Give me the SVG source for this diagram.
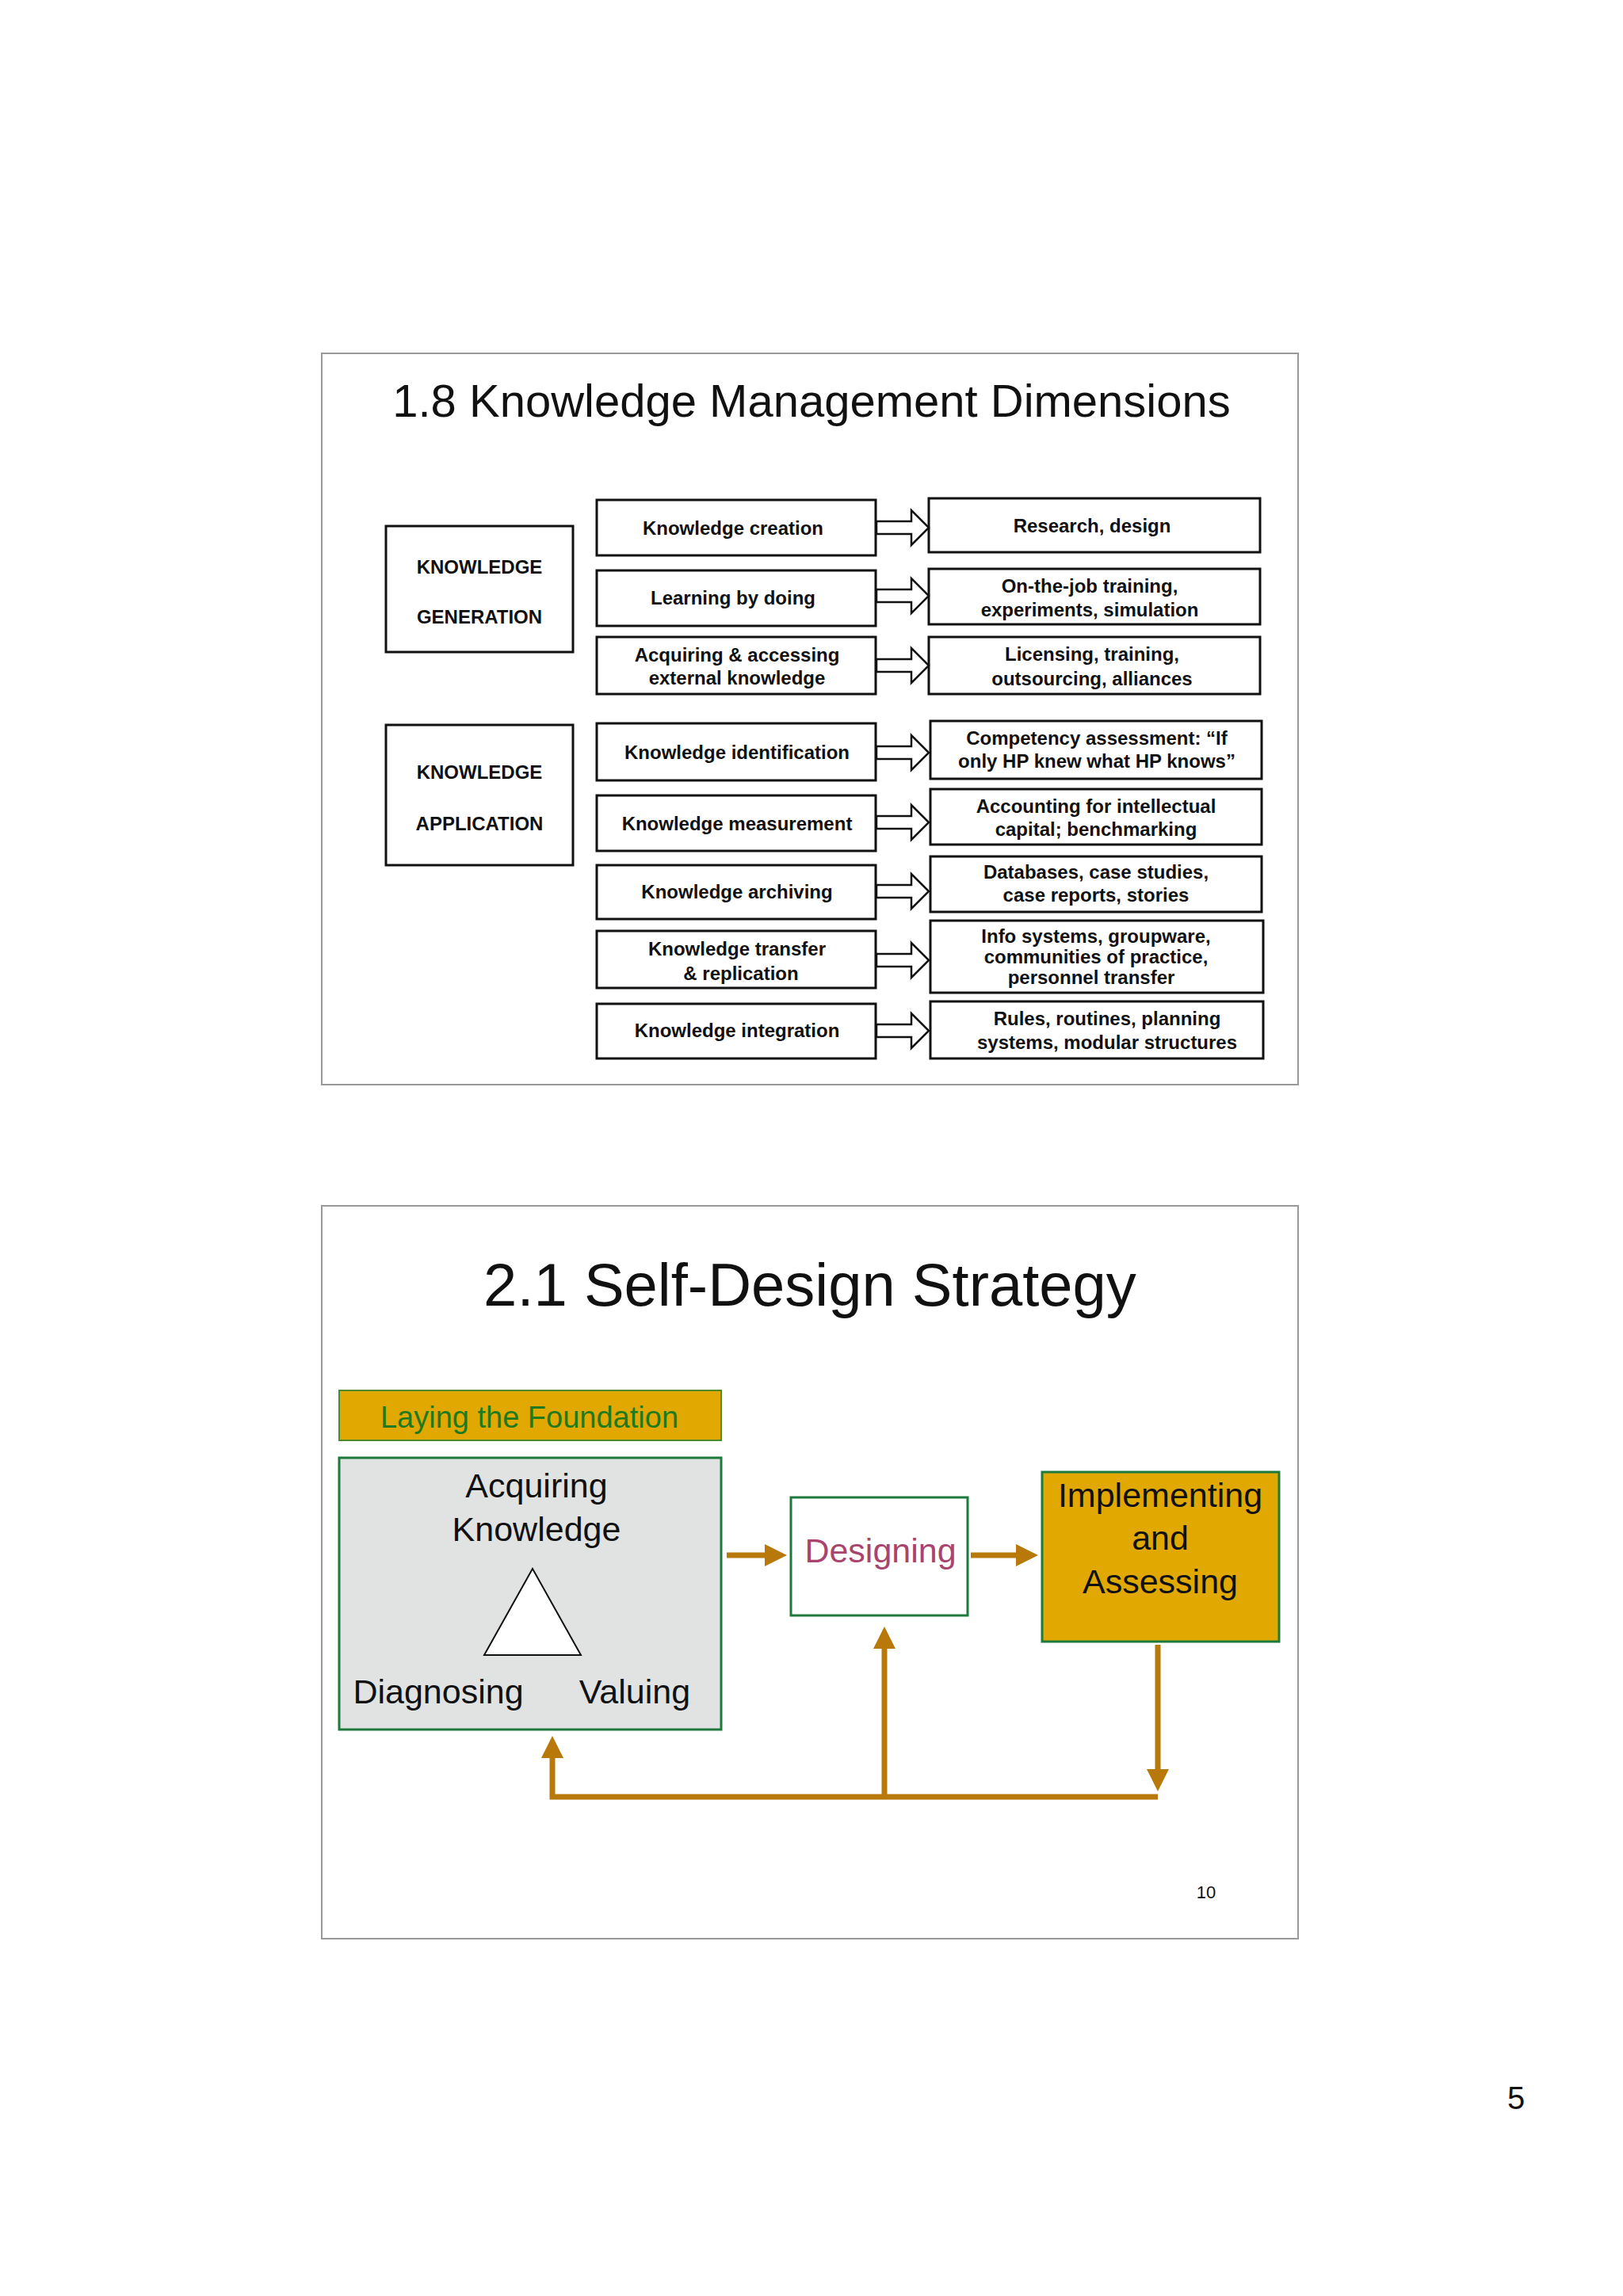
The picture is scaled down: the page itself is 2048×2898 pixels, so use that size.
<svg xmlns="http://www.w3.org/2000/svg" width="2048" height="2898" viewBox="0 0 2048 2898">
<style>
.frame{fill:#fff;stroke:#999;stroke-width:2}
.b{fill:#fff;stroke:#111;stroke-width:3}
.t{font-family:"Liberation Sans",Arial,sans-serif;font-weight:bold;font-size:24px;fill:#111;text-anchor:middle}
.ha{fill:#fff;stroke:#111;stroke-width:2.5}
.s2{font-family:"Liberation Sans",Arial,sans-serif;text-anchor:middle}
.fb{fill:none;stroke:#B8780A;stroke-width:7}
</style>
<defs>
<marker id="ah" markerWidth="4" markerHeight="4" refX="1" refY="2" orient="auto" markerUnits="strokeWidth"><path d="M0,0 L4,2 L0,4 Z" fill="#B8780A"/></marker>
<polygon id="ba" points="0,-8 44,-8 44,-22 66,0 44,22 44,8 0,8" class="ha"/>
</defs>
<rect width="2048" height="2898" fill="#fff"/>
<rect class="frame" x="406" y="446" width="1232" height="923"/>
<text x="1024" y="526" font-family="Liberation Sans,Arial,sans-serif" font-size="58" text-anchor="middle" fill="#111">1.8 Knowledge Management Dimensions</text>
<g id="kgen"><rect class="b" x="487" y="664" width="236" height="159"/><text class="t" x="605" y="724" font-size="26">KNOWLEDGE</text><text class="t" x="605" y="787" font-size="26">GENERATION</text></g>
<g id="kapp"><rect class="b" x="487" y="915" width="236" height="177"/><text class="t" x="605" y="983" font-size="26">KNOWLEDGE</text><text class="t" x="605" y="1048" font-size="26">APPLICATION</text></g>
<g id="m1"><rect class="b" x="753" y="631" width="352" height="70"/><text class="t" x="925" y="675">Knowledge creation</text></g>
<g id="m2"><rect class="b" x="753" y="720" width="352" height="70"/><text class="t" x="925" y="763">Learning by doing</text></g>
<g id="m3"><rect class="b" x="753" y="804" width="352" height="72"/><text class="t" x="930" y="835">Acquiring &amp; accessing</text><text class="t" x="930" y="864">external knowledge</text></g>
<g id="m4"><rect class="b" x="753" y="913" width="352" height="72"/><text class="t" x="930" y="958">Knowledge identification</text></g>
<g id="m5"><rect class="b" x="753" y="1004" width="352" height="70"/><text class="t" x="930" y="1048">Knowledge measurement</text></g>
<g id="m6"><rect class="b" x="753" y="1092" width="352" height="68"/><text class="t" x="930" y="1134">Knowledge archiving</text></g>
<g id="m7"><rect class="b" x="753" y="1175" width="352" height="72"/><text class="t" x="930" y="1206">Knowledge transfer</text><text class="t" x="935" y="1237">&amp; replication</text></g>
<g id="m8"><rect class="b" x="753" y="1267" width="352" height="69"/><text class="t" x="930" y="1309">Knowledge integration</text></g>
<g id="r1"><rect class="b" x="1172" y="629" width="418" height="68"/><text class="t" x="1378" y="672">Research, design</text></g>
<g id="r2"><rect class="b" x="1172" y="718" width="418" height="70"/><text class="t" x="1375" y="748">On-the-job training,</text><text class="t" x="1375" y="778">experiments, simulation</text></g>
<g id="r3"><rect class="b" x="1172" y="804" width="418" height="72"/><text class="t" x="1378" y="834">Licensing, training,</text><text class="t" x="1378" y="865">outsourcing, alliances</text></g>
<g id="r4"><rect class="b" x="1174" y="910" width="418" height="73"/><text class="t" x="1384" y="940">Competency assessment: “If</text><text class="t" x="1384" y="969">only HP knew what HP knows”</text></g>
<g id="r5"><rect class="b" x="1174" y="996" width="418" height="70"/><text class="t" x="1383" y="1026">Accounting for intellectual</text><text class="t" x="1383" y="1055">capital; benchmarking</text></g>
<g id="r6"><rect class="b" x="1174" y="1081" width="418" height="70"/><text class="t" x="1383" y="1109">Databases, case studies,</text><text class="t" x="1383" y="1138">case reports, stories</text></g>
<g id="r7"><rect class="b" x="1174" y="1162" width="420" height="91"/><text class="t" x="1383" y="1190">Info systems, groupware,</text><text class="t" x="1383" y="1216">communities of practice,</text><text class="t" x="1377" y="1242">personnel transfer</text></g>
<g id="r8"><rect class="b" x="1174" y="1264" width="420" height="72"/><text class="t" x="1397" y="1294">Rules, routines, planning</text><text class="t" x="1397" y="1324">systems, modular structures</text></g>
<g id="connectors1">
<use href="#ba" x="1106" y="666"/><use href="#ba" x="1106" y="752"/><use href="#ba" x="1106" y="840"/><use href="#ba" x="1106" y="950"/><use href="#ba" x="1106" y="1038"/><use href="#ba" x="1106" y="1125"/><use href="#ba" x="1106" y="1212"/><use href="#ba" x="1106" y="1301"/>
</g>
<rect class="frame" x="406" y="1522" width="1232" height="925"/>
<text x="1022" y="1648" font-family="Liberation Sans,Arial,sans-serif" font-size="76" text-anchor="middle" fill="#111">2.1 Self-Design Strategy</text>
<g id="foundation"><rect x="428" y="1755" width="482" height="63" fill="#E0A800" stroke="#4d8a2a" stroke-width="2"/><text class="s2" x="668" y="1802" font-size="38" fill="#1f7a1f">Laying the Foundation</text></g>
<g id="acq"><rect x="428" y="1840" width="482" height="343" fill="#E1E3E2" stroke="#1e7a3c" stroke-width="3"/>
<text class="s2" x="677" y="1890" font-size="43" fill="#111">Acquiring</text><text class="s2" x="677" y="1945" font-size="43" fill="#111">Knowledge</text>
<polygon points="672,1980 611,2089 733,2089" fill="#fff" stroke="#111" stroke-width="2"/>
<text class="s2" x="553" y="2150" font-size="43" fill="#111">Diagnosing</text><text class="s2" x="801" y="2150" font-size="43" fill="#111">Valuing</text></g>
<g id="designing"><rect x="998" y="1890" width="223" height="149" fill="#fff" stroke="#1e7a3c" stroke-width="3"/><text class="s2" x="1111" y="1972" font-size="43" fill="#a8446e">Designing</text></g>
<g id="impl"><rect x="1315" y="1858" width="299" height="214" fill="#E0A800" stroke="#1e7a3c" stroke-width="3"/>
<text class="s2" x="1464" y="1902" font-size="43" fill="#111">Implementing</text><text class="s2" x="1464" y="1956" font-size="43" fill="#111">and</text><text class="s2" x="1464" y="2011" font-size="43" fill="#111">Assessing</text></g>
<g id="connectors2">
<line class="fb" x1="917" y1="1963" x2="972" y2="1963" marker-end="url(#ah)"/>
<line class="fb" x1="1225" y1="1963" x2="1289" y2="1963" marker-end="url(#ah)"/>
<line class="fb" x1="1461" y1="2076" x2="1461" y2="2240" marker-end="url(#ah)"/>
<polyline class="fb" points="1461,2268 697,2268 697,2212" marker-end="url(#ah)"/>
<line class="fb" x1="1116" y1="2268" x2="1116" y2="2074" marker-end="url(#ah)"/>
</g>
<text x="1522" y="2396" font-family="Liberation Sans,Arial,sans-serif" font-size="22" text-anchor="middle" fill="#111">10</text>
<text x="1913" y="2662" font-family="Liberation Sans,Arial,sans-serif" font-size="40" text-anchor="middle" fill="#111">5</text>
</svg>
